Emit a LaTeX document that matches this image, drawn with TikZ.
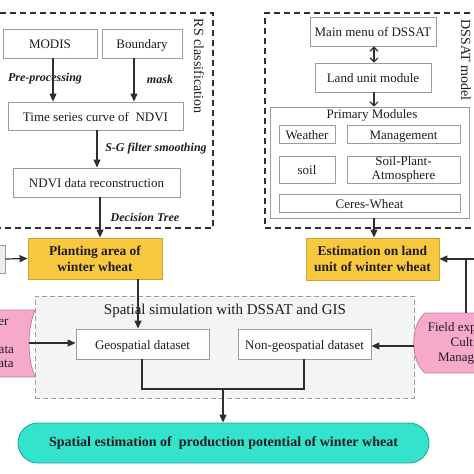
\documentclass[tikz,border=0pt]{standalone}
\usepackage{fontspec}
\setmainfont{Liberation Serif}
\usetikzlibrary{arrows.meta,calc}
\definecolor{linec}{HTML}{2E2E2E}
\definecolor{boxc}{HTML}{9C9C9C}
\definecolor{yelf}{HTML}{F8C93E}
\definecolor{yeld}{HTML}{C9A23A}
\definecolor{pinkf}{HTML}{F6A9C8}
\definecolor{pinkd}{HTML}{C97FA0}
\definecolor{turf}{HTML}{33E3CB}
\definecolor{turd}{HTML}{22A898}
\definecolor{simf}{HTML}{F4F5F5}
\definecolor{txt}{HTML}{1E1E1E}
\tikzset{
  wbox/.style={draw=boxc, line width=0.9pt, fill=white, inner sep=0pt, text=txt,
    font=\fontsize{13}{15}\selectfont, align=center},
  onel/.style={text height=10pt, text depth=0pt},
  ybox/.style={draw=yeld, line width=0.9pt, fill=yelf, inner sep=0pt, text=txt,
    font=\fontsize{13.5}{16}\selectfont\bfseries, align=center},
  outerbox/.style={draw=linec, line width=1.2pt, dash pattern=on 6pt off 4pt, inner sep=0pt},
  simbox/.style={draw=boxc, line width=0.8pt, dash pattern=on 5pt off 3pt, fill=simf, inner sep=0pt},
  elab/.style={font=\fontsize{12}{14}\selectfont\bfseries\itshape, text=txt, inner sep=0pt},
  vlab/.style={font=\fontsize{14}{16}\selectfont, text=txt, rotate=-90, inner sep=0pt},
  arr/.style={draw=linec, line width=1.2pt, -{Triangle[length=8pt,width=7pt]}},
  barb/.style={draw=linec, line width=1.1pt, -{Straight Barb[length=4pt,width=8pt]}},
  dbarb/.style={draw=linec, line width=1.1pt, {Straight Barb[length=4pt,width=8pt]}-{Straight Barb[length=4pt,width=8pt]}},
  plain/.style={draw=linec, line width=1.2pt},
}
\begin{document}
\begin{tikzpicture}[x=1pt,y=-1pt]
\useasboundingbox (0,0) rectangle (474,474);
\fill[white] (0,0) rectangle (474,474);

% ---------- RS classification ----------
\node[outerbox, minimum width=228pt, minimum height=215pt] (rs) at (99,120.5) {};
\node[vlab] (rslab) at (199,66) {RS classification};
\node[wbox, onel, minimum width=94pt, minimum height=29pt] (modis) at (50,43.5) {MODIS};
\node[wbox, onel, minimum width=80pt, minimum height=29pt] (bound) at (142,43.5) {Boundary};
\node[wbox, onel, minimum width=175pt, minimum height=28pt] (ts) at (95.5,116) {Time series curve of~ NDVI};
\node[wbox, onel, minimum width=167pt, minimum height=29pt] (recon) at (96.5,182.5) {NDVI data reconstruction};
\node[elab] (lpre) at (45,79) {Pre-processing};
\node[elab] (lmask) at (160,79) {mask};
\node[elab] (lsg) at (156,149) {S-G filter smoothing};
\node[elab] (ldt) at (145,217) {Decision Tree};

% ---------- DSSAT model ----------
\node[outerbox, minimum width=215pt, minimum height=215pt] (dssat) at (372.5,120.5) {};
\node[vlab] (dslab) at (466,60) {DSSAT model};
\node[wbox, onel, minimum width=126pt, minimum height=29pt] (main) at (373,31.5) {Main menu of DSSAT};
\node[wbox, onel, minimum width=116pt, minimum height=29pt] (land) at (373,77.5) {Land unit module};
\node[wbox, minimum width=199pt, minimum height=111pt] (prim) at (369.5,162.5) {};
\node[text=txt, font=\fontsize{13}{15}\selectfont, inner sep=0pt] (primlab) at (372,115.5) {Primary Modules};
\node[wbox, onel, minimum width=56pt, minimum height=18pt] (weather) at (307,134) {Weather};
\node[wbox, onel, minimum width=113pt, minimum height=18pt] (manag) at (403.5,134) {Management};
\node[wbox, onel, minimum width=56pt, minimum height=27pt] (soil) at (307,169.5) {soil};
\node[wbox, minimum width=113pt, minimum height=27pt, font=\fontsize{13}{14}\selectfont] (spa) at (403.5,169.5) {Soil-Plant-\\Atmosphere};
\node[wbox, onel, minimum width=181pt, minimum height=18pt] (ceres) at (369.5,203) {Ceres-Wheat};

% ---------- middle row ----------
\node[draw=boxc, line width=0.9pt, fill=black!7, minimum width=15pt, minimum height=28pt, inner sep=0pt] (lgray) at (-2.5,259) {};
\node[ybox, minimum width=134pt, minimum height=41pt] (plant) at (95,258.5) {Planting area of\\winter wheat};
\node[ybox, minimum width=133pt, minimum height=42pt] (est) at (372.5,259) {Estimation on land\\unit of winter wheat};

% ---------- spatial simulation ----------
\node[simbox, minimum width=379pt, minimum height=102pt] (sim) at (224.5,347) {};
\node[text=txt, font=\fontsize{15}{17}\selectfont, inner sep=0pt] (simlab) at (225,311) {Spatial simulation with DSSAT and GIS};
\node[wbox, onel, minimum width=133pt, minimum height=30pt] (geo) at (142.5,344) {Geospatial dataset};
\node[wbox, onel, minimum width=133pt, minimum height=30pt] (ngeo) at (304.5,344) {Non-geospatial dataset};

% pink data shapes
\fill[pinkf, draw=pinkd, line width=0.8pt] (-80,310) -- (35,310) .. controls (27,330) and (27,357) .. (35,377) -- (-80,377) -- cycle;
\node[text=txt, font=\fontsize{13}{14}\selectfont, align=center, inner sep=0pt] (ltext) at (-13,342) {Weather\\Soils\\DEM data\\Yield data};
\coordinate (lp) at (29,343);
\fill[pinkf, draw=pinkd, line width=0.8pt] (560,313) -- (425,313) .. controls (410,325) and (410,361) .. (425,373) -- (560,373) -- cycle;
\node[text=txt, font=\fontsize{13}{15}\selectfont, align=center, inner sep=0pt] (rtext) at (472,343) {Field experiment\\Cultivar\\Management};
\coordinate (rp) at (414,346);
\coordinate (rptop) at (466,313);
\coordinate (rj) at (466,259);
\coordinate (rin) at (490,259);

% final
\node[draw=turd, line width=0.9pt, fill=turf, rounded corners=20pt, minimum width=411pt, minimum height=40pt, inner sep=0pt, text=txt, font=\fontsize{14}{16}\selectfont\bfseries] (final) at (223.5,443) {Spatial estimation of~ production potential of winter wheat};

% ---------- connectors ----------
\draw[arr] (53,0 |- modis.south) -- (53,0 |- ts.north);
\draw[arr] (134,0 |- bound.south) -- (134,0 |- ts.north);
\draw[arr] (97,0 |- ts.south) -- (97,0 |- recon.north);
\draw[arr] (100,0 |- recon.south) -- (100,0 |- plant.north);
\draw[dbarb] (374,0 |- main.south) -- (374,0 |- land.north);
\draw[barb] (374,0 |- land.south) -- (374,0 |- prim.north);
\draw[arr] (374,0 |- prim.south) -- (374,0 |- est.north);
\draw[arr] (lgray.east) -- (plant.west);
\draw[arr] (138,0 |- plant.south) -- (138,0 |- geo.north);
\draw[arr] (lp) -- (geo.west |- lp);
\draw[arr] (rp) -- (ngeo.east |- rp);
\draw[plain] (rptop) -- (rj);
\draw[plain] (rin) -- (rj);
\draw[arr] (rj) -- (est.east |- rj);
\coordinate (jn) at (223,389);
\draw[plain] (142,0 |- geo.south) |- (jn);
\draw[plain] (304,0 |- ngeo.south) |- (jn);
\draw[arr] (jn) -- (jn |- final.north);
\end{tikzpicture}
\end{document}
